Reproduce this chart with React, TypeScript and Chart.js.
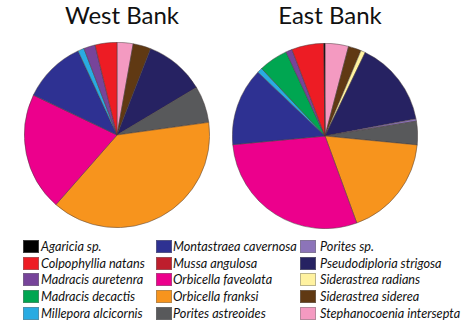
import React, { useEffect, useRef } from "react";
import { Chart, registerables } from "chart.js";

Chart.register(...registerables);

const species = [
  "Agaricia sp.",
  "Colpophyllia natans",
  "Madracis auretenra",
  "Madracis decactis",
  "Millepora alcicornis",
  "Montastraea cavernosa",
  "Mussa angulosa",
  "Orbicella faveolata",
  "Orbicella franksi",
  "Porites astreoides",
  "Porites sp.",
  "Pseudodiploria strigosa",
  "Siderastrea radians",
  "Siderastrea siderea",
  "Stephanocoenia intersepta",
];

const colors = [
  "#000000",
  "#ED1C24",
  "#77449A",
  "#00A651",
  "#29ABE2",
  "#2E3192",
  "#BE1E2D",
  "#EC008C",
  "#F7941D",
  "#58595B",
  "#8C74B9",
  "#262262",
  "#FFF2A0",
  "#603913",
  "#F49AC1",
];

const westValues = [0, 3.8, 2.0, 0, 1.1, 11.0, 0, 20.6, 38.6, 6.4, 0, 10.5, 0, 3.1, 2.8];
const eastValues = [0.2, 5.6, 1.1, 5.1, 0.9, 13.6, 0, 29.1, 17.9, 4.1, 0.4, 14.9, 0.8, 2.25, 4.1];

const titles = ["West Bank", "East Bank"];

function PieCanvas({ values, left, top }: { values: number[]; left: number; top: number }) {
  const ref = useRef<HTMLCanvasElement | null>(null);
  useEffect(() => {
    if (!ref.current) return;
    const labels = [...species].reverse();
    const data = [...values].reverse();
    const bg = [...colors].reverse();
    const chart = new Chart(ref.current, {
      type: "pie",
      data: {
        labels,
        datasets: [
          {
            data,
            backgroundColor: bg,
            borderColor: "rgba(70,60,60,0.7)",
            borderWidth: data.map((v) => (v > 0 ? 0.7 : 0)),
          },
        ],
      },
      options: {
        responsive: false,
        animation: false,
        layout: { padding: 0 },
        plugins: {
          legend: { display: false },
          tooltip: { enabled: false },
          title: { display: false },
        },
      },
    });
    return () => chart.destroy();
  }, [values]);
  return (
    <canvas
      ref={ref}
      width={186}
      height={186}
      style={{ position: "absolute", left, top, width: 186, height: 186 }}
    />
  );
}

export default function App() {
  const colLeft = [23, 156, 300];
  const textLeft = [41, 173, 320];
  const rowTop = [240, 257, 273, 290, 307];
  return (
    <div
      style={{
        position: "fixed",
        left: 0,
        top: 0,
        width: 474,
        height: 327,
        background: "#fff",
        overflow: "hidden",
      }}
    >
      <div
        style={{
          position: "absolute",
          left: 22,
          width: 200,
          top: 0,
          textAlign: "center",
          font: "24px Lato, 'Liberation Sans', sans-serif",
          lineHeight: "30px",
          color: "#111",
        }}
      >
        {titles[0]}
      </div>
      <div
        style={{
          position: "absolute",
          left: 230,
          width: 200,
          top: 0,
          textAlign: "center",
          font: "24px Lato, 'Liberation Sans', sans-serif",
          lineHeight: "30px",
          color: "#111",
        }}
      >
        {titles[1]}
      </div>
      <PieCanvas values={westValues} left={24} top={42} />
      <PieCanvas values={eastValues} left={232} top={43} />
      {species.map((s, i) => {
        const c = Math.floor(i / 5);
        const r = i % 5;
        return (
          <React.Fragment key={s}>
            <div
              style={{
                position: "absolute",
                left: colLeft[c],
                top: rowTop[r],
                width: 16,
                height: 13,
                background: colors[i],
                boxSizing: "border-box",
                border: "1px solid rgba(120,120,120,0.5)",
              }}
            />
            <div
              style={{
                position: "absolute",
                left: textLeft[c],
                top: rowTop[r] - 2,
                font: "italic 12.7px Lato, 'Liberation Sans', sans-serif",
                lineHeight: "17px",
                color: "#111",
                whiteSpace: "nowrap",
              }}
            >
              {s}
            </div>
          </React.Fragment>
        );
      })}
    </div>
  );
}
